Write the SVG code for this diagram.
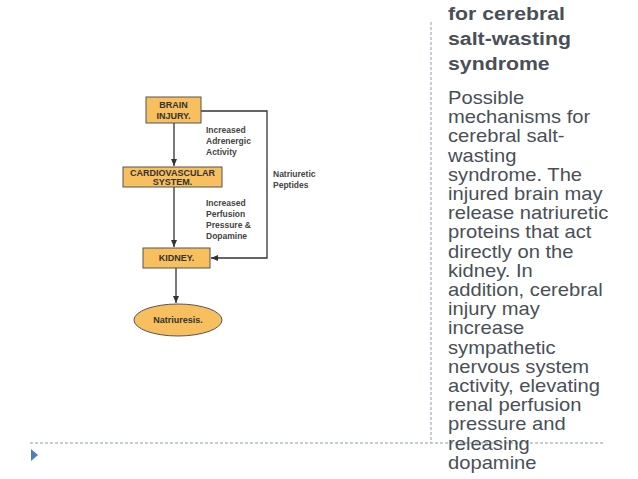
<svg xmlns="http://www.w3.org/2000/svg" width="638" height="479" viewBox="0 0 638 479">
<style>
.box{fill:#f7bf5e;stroke:#555;stroke-width:1}
.bt{font-family:"Liberation Sans",Arial,sans-serif;font-weight:bold;font-size:9px;fill:#333;text-anchor:middle}
.lt{font-family:"Liberation Sans",Arial,sans-serif;font-weight:bold;font-size:8.5px;fill:#444}
.ln{stroke:#333;stroke-width:1.3;fill:none}
.tt{font-family:"Liberation Sans",Arial,sans-serif;font-weight:bold;font-size:19px;fill:#4a4f57}
.body{font-family:"Liberation Sans",Arial,sans-serif;font-size:18px;fill:#4a4f57}
.dot{stroke:#8a9bb0;stroke-width:1;stroke-dasharray:3,2}
</style>
<defs><marker id="ah" markerWidth="8" markerHeight="8" refX="7" refY="4" orient="auto" markerUnits="userSpaceOnUse"><path d="M0,1 L7,4 L0,7 Z" fill="#333"/></marker></defs>
<rect width="638" height="479" fill="#fff"/>
<line class="dot" x1="431" y1="22" x2="431" y2="443"/>
<line class="dot" x1="30" y1="443" x2="605" y2="443"/>
<path d="M31,449 L38,455 L31,461 Z" fill="#4f7fb8"/>
<g id="connectors">
<line class="ln" x1="174" y1="123" x2="174" y2="166" marker-end="url(#ah)"/>
<line class="ln" x1="174" y1="187" x2="174" y2="247" marker-end="url(#ah)"/>
<line class="ln" x1="176" y1="268" x2="176" y2="303" marker-end="url(#ah)"/>
<path class="ln" d="M201,111 H267 V258 H211" marker-end="url(#ah)"/>
<text class="lt" x="206" y="133">Increased</text>
<text class="lt" x="206" y="144">Adrenergic</text>
<text class="lt" x="206" y="155">Activity</text>
<text class="lt" x="206" y="206">Increased</text>
<text class="lt" x="206" y="217">Perfusion</text>
<text class="lt" x="206" y="228">Pressure &amp;</text>
<text class="lt" x="206" y="239">Dopamine</text>
<text class="lt" x="273" y="177">Natriuretic</text>
<text class="lt" x="273" y="188">Peptides</text>
</g>
<g id="brain"><rect class="box" x="146" y="97" width="55" height="26"/><text class="bt" x="173.5" y="108">BRAIN</text><text class="bt" x="173.5" y="119">INJURY.</text></g>
<g id="cardio"><rect class="box" x="123" y="167" width="99" height="20"/><text class="bt" x="172.5" y="176">CARDIOVASCULAR</text><text class="bt" x="172.5" y="185">SYSTEM.</text></g>
<g id="kidney"><rect class="box" x="143" y="248" width="67" height="20"/><text class="bt" x="176.5" y="261">KIDNEY.</text></g>
<g id="natriuresis"><ellipse cx="178" cy="320" rx="44" ry="16" fill="#f7bf5e" stroke="#555"/><text class="bt" x="178" y="323">Natriuresis.</text></g>
<g transform="translate(448,0) scale(1.12,1)">
<text class="tt" x="0" y="20">for cerebral</text>
<text class="tt" x="0" y="45">salt-wasting</text>
<text class="tt" x="0" y="70">syndrome</text>
</g>
<g transform="translate(448,0) scale(1.12,1)">
<text class="body">
<tspan x="0" y="104">Possible</tspan><tspan x="0" y="123.2">mechanisms for</tspan><tspan x="0" y="142.4">cerebral salt-</tspan><tspan x="0" y="161.6">wasting</tspan><tspan x="0" y="180.8">syndrome. The</tspan><tspan x="0" y="200">injured brain may</tspan><tspan x="0" y="219.2">release natriuretic</tspan><tspan x="0" y="238.4">proteins that act</tspan><tspan x="0" y="257.6">directly on the</tspan><tspan x="0" y="276.8">kidney. In</tspan><tspan x="0" y="296">addition, cerebral</tspan><tspan x="0" y="315.2">injury may</tspan><tspan x="0" y="334.4">increase</tspan><tspan x="0" y="353.6">sympathetic</tspan><tspan x="0" y="372.8">nervous system</tspan><tspan x="0" y="392">activity, elevating</tspan><tspan x="0" y="411.2">renal perfusion</tspan><tspan x="0" y="430.4">pressure and</tspan><tspan x="0" y="449.6">releasing</tspan><tspan x="0" y="468.8">dopamine</tspan>
</text>
</g>
</svg>
